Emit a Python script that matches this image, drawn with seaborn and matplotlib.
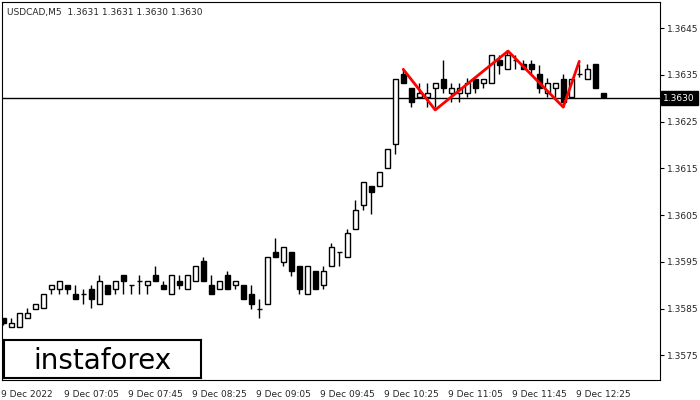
import matplotlib
matplotlib.use("Agg")
import matplotlib.pyplot as plt
import seaborn as sns
import numpy as np
import pandas as pd

# USDCAD M5 candles
opens = [1.35829, 1.35810, 1.35810, 1.35829, 1.35849, 1.35851, 1.35891, 1.35891, 1.35900, 1.35881,
         1.35881, 1.35891, 1.35859, 1.35900, 1.35891, 1.35921, 1.35900, 1.35909, 1.35900, 1.35921,
         1.35900, 1.35881, 1.35909, 1.35891, 1.35909, 1.35951, 1.35900, 1.35891, 1.35921, 1.35900,
         1.35900, 1.35881, 1.35849, 1.35859, 1.35971, 1.35949, 1.35971, 1.35941, 1.35881, 1.35930,
         1.35900, 1.35941, 1.35971, 1.35960, 1.36020, 1.36071, 1.36112, 1.36112, 1.36150, 1.36202,
         1.36352, 1.36322, 1.36302, 1.36302, 1.36322, 1.36341, 1.36311, 1.36311, 1.36311, 1.36341,
         1.36332, 1.36332, 1.36382, 1.36362, 1.36382, 1.36373, 1.36373, 1.36352, 1.36311, 1.36322,
         1.36341, 1.36302, 1.36352, 1.36341, 1.36373, 1.36311]
highs = [1.35829, 1.35829, 1.35840, 1.35851, 1.35859, 1.35881, 1.35900, 1.35909, 1.35900, 1.35900,
         1.35891, 1.35900, 1.35921, 1.35900, 1.35909, 1.35921, 1.35900, 1.35921, 1.35909, 1.35941,
         1.35909, 1.35921, 1.35921, 1.35921, 1.35941, 1.35960, 1.35921, 1.35909, 1.35930, 1.35909,
         1.35900, 1.35900, 1.35870, 1.35960, 1.36001, 1.35981, 1.35971, 1.35941, 1.35941, 1.35930,
         1.35941, 1.35990, 1.35971, 1.36020, 1.36082, 1.36120, 1.36112, 1.36142, 1.36191, 1.36341,
         1.36362, 1.36322, 1.36332, 1.36332, 1.36332, 1.36382, 1.36332, 1.36332, 1.36343, 1.36341,
         1.36341, 1.36392, 1.36392, 1.36403, 1.36392, 1.36382, 1.36382, 1.36371, 1.36343, 1.36332,
         1.36352, 1.36341, 1.36373, 1.36373, 1.36373, 1.36311]
lows = [1.35814, 1.35810, 1.35810, 1.35829, 1.35849, 1.35851, 1.35881, 1.35881, 1.35881, 1.35870,
        1.35859, 1.35851, 1.35859, 1.35881, 1.35881, 1.35881, 1.35881, 1.35881, 1.35881, 1.35909,
        1.35891, 1.35881, 1.35891, 1.35891, 1.35909, 1.35909, 1.35881, 1.35891, 1.35891, 1.35891,
        1.35870, 1.35849, 1.35829, 1.35859, 1.35960, 1.35941, 1.35919, 1.35881, 1.35881, 1.35891,
        1.35891, 1.35941, 1.35941, 1.35960, 1.36020, 1.36061, 1.36052, 1.36112, 1.36150, 1.36180,
        1.36332, 1.36281, 1.36302, 1.36281, 1.36281, 1.36311, 1.36292, 1.36292, 1.36302, 1.36311,
        1.36322, 1.36332, 1.36352, 1.36362, 1.36362, 1.36362, 1.36352, 1.36311, 1.36302, 1.36302,
        1.36281, 1.36302, 1.36345, 1.36341, 1.36322, 1.36302]
closes = [1.35819, 1.35819, 1.35840, 1.35840, 1.35859, 1.35881, 1.35900, 1.35909, 1.35891, 1.35870,
          1.35881, 1.35870, 1.35909, 1.35881, 1.35909, 1.35909, 1.35900, 1.35909, 1.35909, 1.35909,
          1.35891, 1.35921, 1.35900, 1.35921, 1.35941, 1.35909, 1.35881, 1.35909, 1.35891, 1.35909,
          1.35870, 1.35859, 1.35849, 1.35960, 1.35960, 1.35981, 1.35930, 1.35891, 1.35941, 1.35891,
          1.35930, 1.35981, 1.35971, 1.36011, 1.36061, 1.36120, 1.36099, 1.36142, 1.36191, 1.36341,
          1.36332, 1.36292, 1.36311, 1.36311, 1.36332, 1.36322, 1.36322, 1.36322, 1.36332, 1.36322,
          1.36341, 1.36392, 1.36371, 1.36392, 1.36382, 1.36362, 1.36362, 1.36322, 1.36332, 1.36332,
          1.36292, 1.36341, 1.36352, 1.36362, 1.36322, 1.36302]

# pattern outline (candle index, price)
pattern_idx = [50, 54, 63.1, 70, 72]
pattern_price = [1.36362, 1.36275, 1.36401, 1.36281, 1.36379]

last_price = 1.3630
price_ticks = [1.3575, 1.3585, 1.3595, 1.3605, 1.3615, 1.3625, 1.3635, 1.3645]
time_tick_idx = [3, 11, 19, 27, 35, 43, 51, 59, 67, 75]
time_labels = ["9 Dec 2022", "9 Dec 07:05", "9 Dec 07:45", "9 Dec 08:25", "9 Dec 09:05",
               "9 Dec 09:45", "9 Dec 10:25", "9 Dec 11:05", "9 Dec 11:45", "9 Dec 12:25"]

df = pd.DataFrame({"open": opens, "high": highs, "low": lows, "close": closes})
df["i"] = np.arange(len(df))
up = df["close"] >= df["open"]

sns.set_style("white")
plt.rcParams["font.family"] = ["DejaVu Sans"]

fig = plt.figure(figsize=(7, 4), dpi=100)
ax = fig.add_axes([0.003, 0.05, 0.94, 0.945])

# wicks
ax.vlines(df["i"], df["low"], df["high"], color="black", lw=1, zorder=2)
# bodies
body_lo = np.minimum(df["open"], df["close"])
body_h = np.maximum(np.abs(df["close"] - df["open"]), 0.000005)
ax.bar(df["i"][up], body_h[up], bottom=body_lo[up], width=0.62,
       color="white", edgecolor="black", lw=1, zorder=3)
ax.bar(df["i"][~up], body_h[~up], bottom=body_lo[~up], width=0.62,
       color="black", edgecolor="black", lw=1, zorder=3)

ax.axhline(last_price, color="black", lw=1, zorder=1)

sns.lineplot(x=pattern_idx, y=pattern_price, ax=ax, color="red", lw=2, sort=False, zorder=5)

ax.set_xlim(-0.125, 82.1)
ax.set_ylim(1.35697, 1.36506)

ax.yaxis.tick_right()
ax.set_yticks(price_ticks)
ax.set_yticklabels([f"{p:.4f}" for p in price_ticks], fontsize=6.5)
ax.set_xticks(time_tick_idx)
ax.set_xticklabels(time_labels, fontsize=6.5)
ax.tick_params(axis="both", length=3, width=0.8, color="black", pad=2, direction="out")
ax.tick_params(axis="x", pad=4)
for s in ax.spines.values():
    s.set_color("black")
    s.set_linewidth(0.8)

# last price tag
ax.text(1.005, (last_price - 1.35697) / (1.36506 - 1.35697), f"{last_price:.4f}",
        transform=ax.transAxes, ha="left", va="center", fontsize=6.5, color="white",
        bbox=dict(boxstyle="square,pad=0.3", fc="black", ec="black"))

ax.text(0.008, 0.985, "USDCAD,M5  1.3631 1.3631 1.3630 1.3630", transform=ax.transAxes,
        ha="left", va="top", fontsize=6.5)

# logo box
logo = fig.add_axes([0.005, 0.055, 0.282, 0.095])
logo.set_xticks([])
logo.set_yticks([])
for s in logo.spines.values():
    s.set_color("black")
    s.set_linewidth(1.5)
logo.text(0.5, 0.45, "instaforex", ha="center", va="center", fontsize=20, color="black")

fig.savefig("out.png", dpi=100)
